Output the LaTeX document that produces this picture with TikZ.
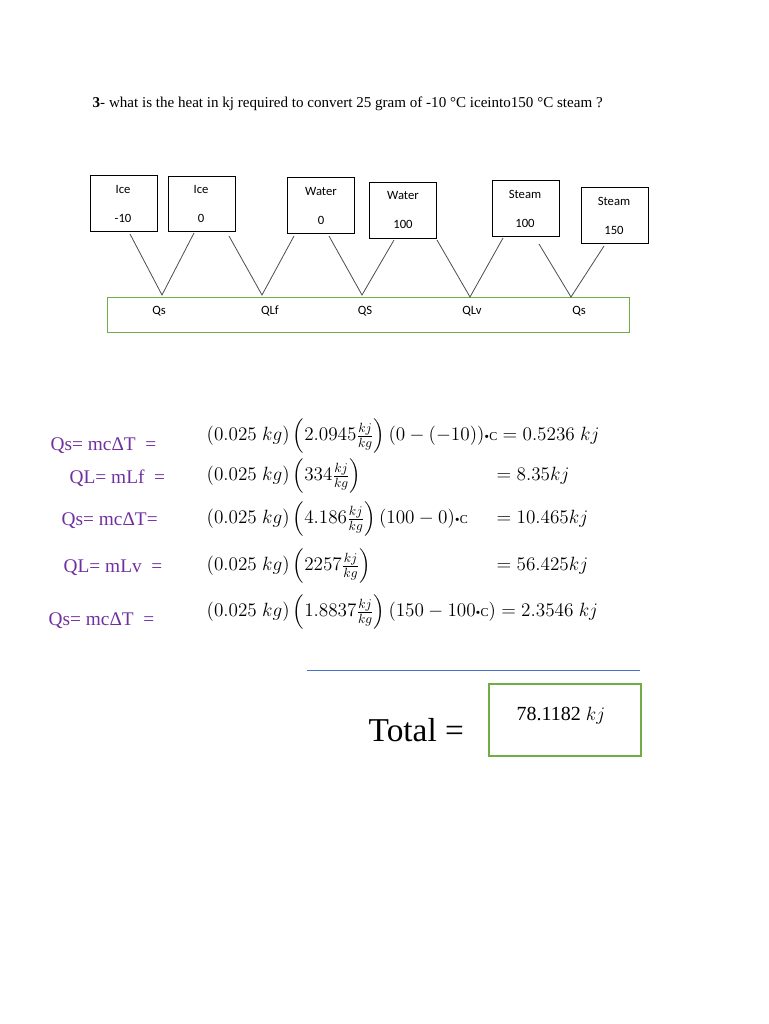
\documentclass[tikz,border=0pt]{standalone}
\usepackage{fontspec}
\usepackage{amsmath}
\setmainfont{Liberation Serif}
\newfontfamily\calfnt{Carlito}
\definecolor{purp}{RGB}{112,48,160}
\definecolor{grn}{RGB}{112,173,71}
\definecolor{blu}{RGB}{68,114,196}
\newcommand{\degc}{{\fontsize{9}{9}\selectfont\raisebox{.5ex}{\tiny$\bullet$}C}}
\begin{document}
\begin{tikzpicture}[x=0.75pt,y=-0.75pt,
 st/.style={draw,line width=1pt,minimum width=50pt,anchor=north west,inner sep=0pt},
 lab/.style={font=\calfnt\fontsize{9.5}{10}\selectfont},
 pl/.style={text=purp,font=\fontsize{14.5}{16}\selectfont,anchor=west},
 eq/.style={anchor=west,font=\fontsize{14.3}{16}\selectfont},
 ln/.style={draw=black!70,line width=0.6pt}]
\useasboundingbox (0,0) rectangle (768,1024);
\node[anchor=west,font=\fontsize{11.3}{13}\selectfont] (title) at (88,104) {\textbf{3}- what is the heat in kj required to convert 25 gram of -10 °C iceinto150 °C steam ?};
\node[st,minimum height=42pt] (b1) at (90,175) {};
\node[st,minimum height=41pt] (b2) at (168,176) {};
\node[st,minimum height=42pt] (b3) at (287,177) {};
\node[st,minimum height=42pt] (b4) at (369,182) {};
\node[st,minimum height=42pt] (b5) at (492,180) {};
\node[st,minimum height=42pt] (b6) at (581,187) {};
\foreach \b/\x/\y/\t/\v in {b1/123/189/Ice/-10,b2/201/189/Ice/0,b3/321/191/Water/0,b4/403/195/Water/100,b5/525/194/Steam/100,b6/614/201/Steam/150}{
 \node[lab] (\b t) at (\x,\y) {\t};
 \node[lab] (\b v) at (\x,\y+29) {\v};}
\node[draw=grn,line width=1pt,minimum width=391.5pt,minimum height=26pt,anchor=north west] (bar) at (107,297) {};
\node[lab] (q1) at (159,311) {Qs};
\node[lab] (q2) at (270,311) {QLf};
\node[lab] (q3) at (365,311) {QS};
\node[lab] (q4) at (472,311) {QLv};
\node[lab] (q5) at (579,311) {Qs};
\coordinate (p1) at (162,295); \coordinate (p2) at (262,295); \coordinate (p3) at (362,295); \coordinate (p4) at (470,297); \coordinate (p5) at (571,297);
\draw[ln] (130,234) -- (p1) -- (194,233);
\draw[ln] (229,236) -- (p2) -- (294,236);
\draw[ln] (329,236) -- (p3) -- (394,240);
\draw[ln] (437,240) -- (p4) -- (503,238);
\draw[ln] (539,244) -- (p5) -- (604,246);
\node[pl] (l1) at (46,446) {Qs= mcΔT \ =};
\node[pl] (l2) at (65,478) {QL= mLf \ =};
\node[pl] (l3) at (57,521) {Qs= mcΔT=};
\node[pl] (l4) at (59,568) {QL= mLv \ =};
\node[pl] (l5) at (44,621) {Qs= mcΔT \ =};
\node[eq] (e1) at (202,436) {$(0.025\;kg)\left(2.0945\frac{kj}{kg}\right)\left(0-(-10)\right)$\degc${}=0.5236\;kj$};
\node[eq] (e2) at (202,476) {$(0.025\;kg)\left(334\frac{kj}{kg}\right)$};
\node[eq] (r2) at (492,476) {$=8.35kj$};
\node[eq] (e3) at (202,519) {$(0.025\;kg)\left(4.186\frac{kj}{kg}\right)(100-0)$\degc};
\node[eq] (r3) at (492,519) {$=10.465kj$};
\node[eq] (e4) at (202,566) {$(0.025\;kg)\left(2257\frac{kj}{kg}\right)$};
\node[eq] (r4) at (492,566) {$=56.425kj$};
\node[eq] (e5) at (202,612) {$(0.025\;kg)\left(1.8837\frac{kj}{kg}\right)(150-100$\degc$)=2.3546\;kj$};
\draw[blu,line width=0.6pt] (307,670) -- (640,670);
\node[anchor=west,font=\fontsize{25}{28}\selectfont] (tot) at (364,730) {Total =};
\node[draw=grn,line width=1.2pt,minimum width=114pt,minimum height=54pt,anchor=north west] (tb) at (488,683) {};
\node[font=\fontsize{15}{16}\selectfont] (tv) at (561,716) {78.1182 $kj$};
\end{tikzpicture}
\end{document}
